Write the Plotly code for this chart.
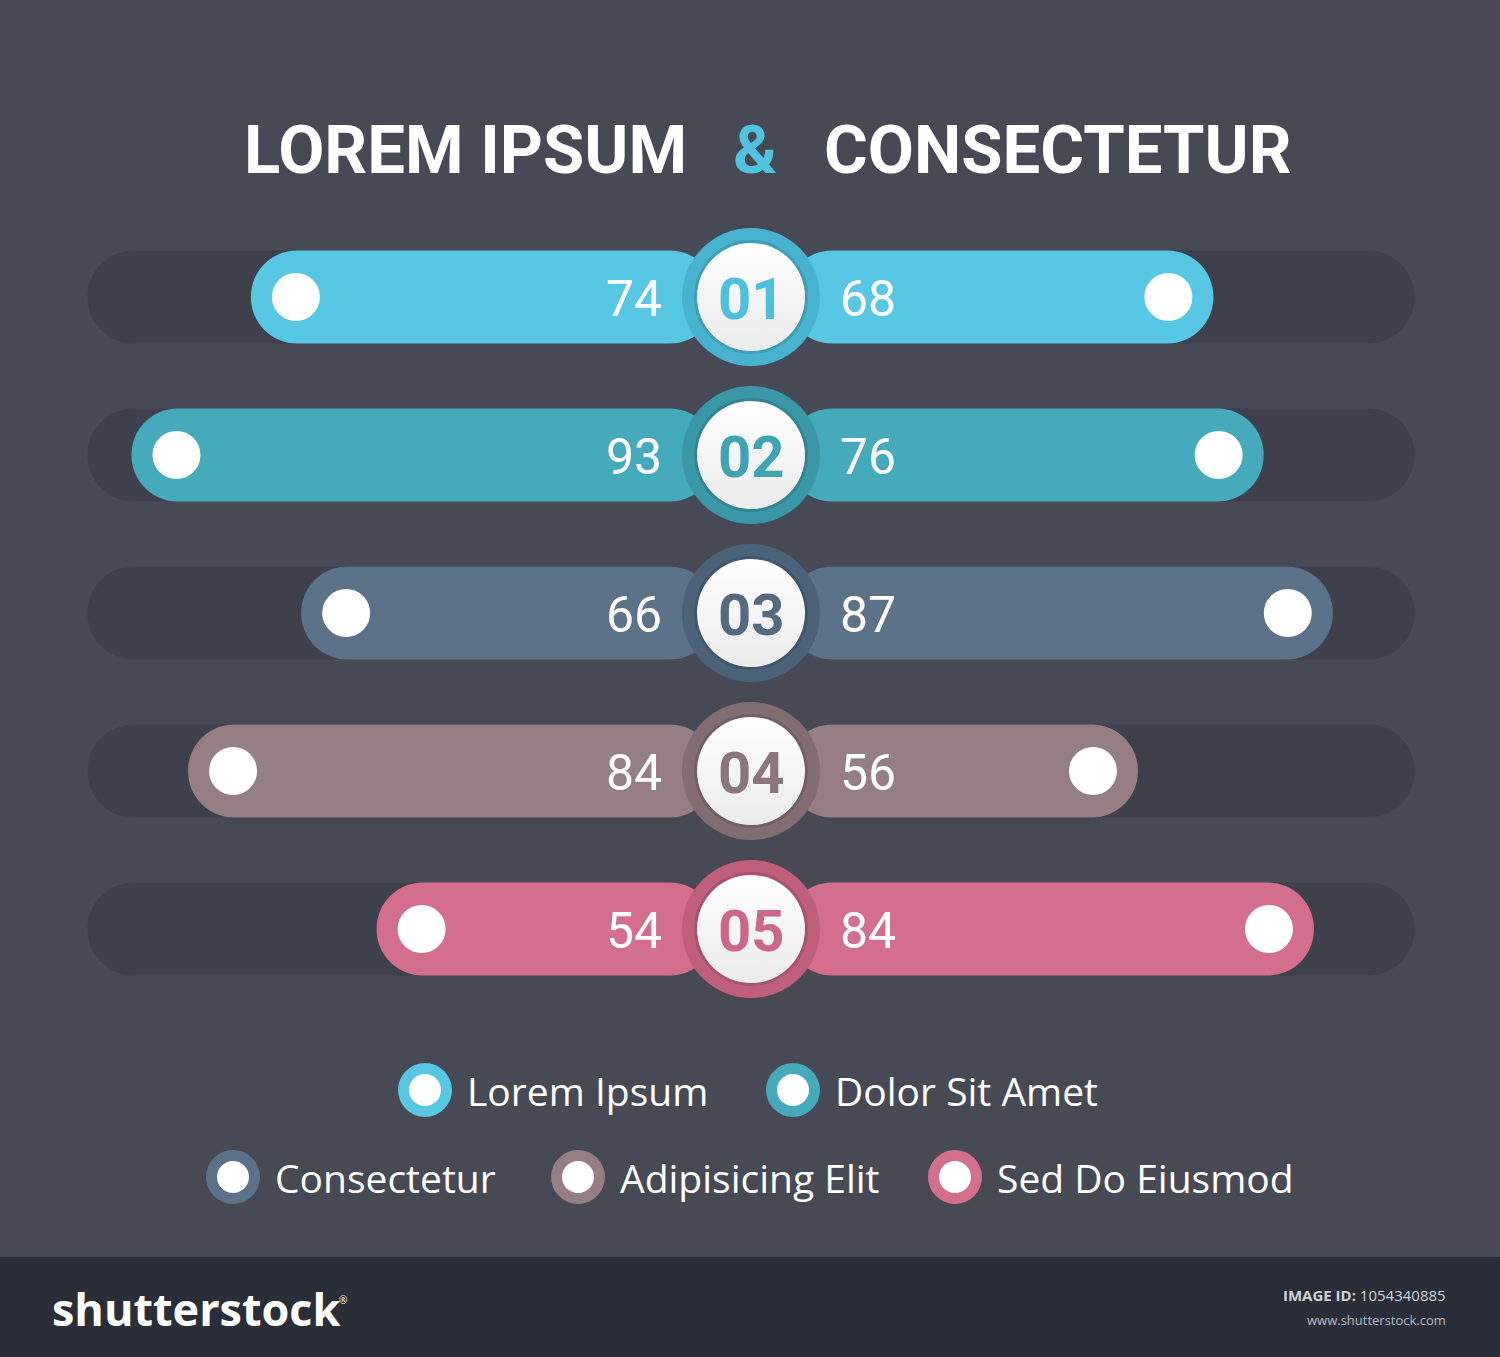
import plotly.graph_objects as go

# ---------------- data ----------------
rows = ["01", "02", "03", "04", "05"]
left_values = [74, 93, 66, 84, 54]
right_values = [68, 76, 87, 56, 84]
track_max = 100
legend_labels = ["Lorem Ipsum", "Dolor Sit Amet", "Consectetur", "Adipisicing Elit", "Sed Do Eiusmod"]
title_left = "LOREM IPSUM"
title_amp = "&"
title_right = "CONSECTETUR"

# ---------------- style ----------------
W, H = 1500, 1357
CX = 751                 # centre pixel
K = 6.285                # px per value unit
BASE = 35 / K            # bars start behind the centre badge
ROW_PX = 158             # px per row
ROW0_PX = 297            # centre of first row
BAR_PX = 93
DOT_IN = 45 / K          # dot inset from bar end (value units)
LBL_OFF = 87 / K

BG = "#474a55"
TRACK_C = "#3e414b"
bar_colors = ["#57c7e3", "#45aabb", "#5b7289", "#957f84", "#d36f8d"]
ring_colors = ["#48b3cf", "#3a97a7", "#4c6278", "#826d72", "#bf5f7c"]
num_colors = ["#4cc0de", "#3ea4b5", "#536a82", "#8b767b", "#cc6787"]
AMP_C = "#4fc3e0"

def px(x):
    return x / W

def py(y):
    return 1 - y / H

bar_w = BAR_PX / ROW_PX

fig = go.Figure()

# tracks
for sign in (-1, 1):
    fig.add_trace(go.Bar(y=rows, x=[sign * track_max] * len(rows), base=sign * BASE, orientation="h",
                         width=bar_w, marker=dict(color=TRACK_C, line=dict(width=0)),
                         hoverinfo="skip", showlegend=False))
fig.add_trace(go.Bar(y=rows, x=[2 * BASE] * len(rows), base=-BASE, orientation="h",
                     width=bar_w, marker=dict(color=TRACK_C, line=dict(width=0), cornerradius=0),
                     hoverinfo="skip", showlegend=False))

# value bars
fig.add_trace(go.Bar(y=rows, x=[-v for v in left_values], base=-BASE, orientation="h",
                     width=bar_w, marker=dict(color=bar_colors, line=dict(width=0)),
                     hoverinfo="skip", showlegend=False))
fig.add_trace(go.Bar(y=rows, x=right_values, base=BASE, orientation="h",
                     width=bar_w, marker=dict(color=bar_colors, line=dict(width=0)),
                     hoverinfo="skip", showlegend=False))
fig.add_trace(go.Bar(y=rows, x=[2 * BASE] * len(rows), base=-BASE, orientation="h",
                     width=bar_w, marker=dict(color=bar_colors, line=dict(width=0), cornerradius=0),
                     hoverinfo="skip", showlegend=False))

# end dots
fig.add_trace(go.Scatter(y=rows, x=[-(BASE + v - DOT_IN) for v in left_values], mode="markers",
                         marker=dict(size=48, color="white", line=dict(width=0)),
                         hoverinfo="skip", showlegend=False))
fig.add_trace(go.Scatter(y=rows, x=[(BASE + v - DOT_IN) for v in right_values], mode="markers",
                         marker=dict(size=48, color="white", line=dict(width=0)),
                         hoverinfo="skip", showlegend=False))

# centre rings
fig.add_trace(go.Scatter(y=rows, x=[0] * len(rows), mode="markers",
                         marker=dict(size=138, color=ring_colors, line=dict(width=0)),
                         hoverinfo="skip", showlegend=False))
fig.add_trace(go.Scatter(y=rows, x=[0] * len(rows), mode="markers",
                         marker=dict(size=114, color="rgba(0,0,0,0.12)", line=dict(width=0)),
                         hoverinfo="skip", showlegend=False))
fig.add_trace(go.Scatter(y=rows, x=[0] * len(rows), mode="markers",
                         marker=dict(size=108, color="white", line=dict(width=0),
                                     gradient=dict(type="vertical", color="#ebebeb")),
                         hoverinfo="skip", showlegend=False))

annotations = []
shapes = []

# badge numbers and value labels (y = category index)
for i, (r, lv, rv, nc) in enumerate(zip(rows, left_values, right_values, num_colors)):
    annotations.append(dict(x=0, y=i, xref="x", yref="y", text=r, showarrow=False,
                            xanchor="center", yanchor="middle", yshift=-2,
                            font=dict(family="Roboto", size=58, color=nc, weight="bold")))
    annotations.append(dict(x=-LBL_OFF, y=i, xref="x", yref="y", text=str(lv), showarrow=False,
                            xanchor="right", yanchor="middle", yshift=-2,
                            font=dict(family="Roboto", size=50, color="white")))
    annotations.append(dict(x=LBL_OFF, y=i, xref="x", yref="y", text=str(rv), showarrow=False,
                            xanchor="left", yanchor="middle", yshift=-2,
                            font=dict(family="Roboto", size=50, color="white")))

# title
title_y = py(150)
annotations.append(dict(x=px(689), y=title_y, xref="paper", yref="paper", text=title_left,
                        xanchor="right", yanchor="middle", showarrow=False,
                        font=dict(family="Roboto", size=67, color="white", weight="bold")))
annotations.append(dict(x=px(755), y=title_y, xref="paper", yref="paper", text=title_amp,
                        xanchor="center", yanchor="middle", showarrow=False,
                        font=dict(family="Roboto", size=67, color=AMP_C, weight="bold")))
annotations.append(dict(x=px(822), y=title_y, xref="paper", yref="paper", text=title_right,
                        xanchor="left", yanchor="middle", showarrow=False,
                        font=dict(family="Roboto", size=67, color="white", weight="bold")))

# custom legend
legend_pos = [(425, 1090), (793, 1090), (233, 1177), (578, 1177), (955, 1177)]
for (cx, cy), lab, col in zip(legend_pos, legend_labels, bar_colors):
    r_out, r_in = 27, 16
    shapes.append(dict(type="circle", xref="paper", yref="paper",
                       x0=px(cx - r_out), x1=px(cx + r_out), y0=py(cy + r_out), y1=py(cy - r_out),
                       fillcolor=col, line=dict(width=0), layer="above"))
    shapes.append(dict(type="circle", xref="paper", yref="paper",
                       x0=px(cx - r_in), x1=px(cx + r_in), y0=py(cy + r_in), y1=py(cy - r_in),
                       fillcolor="white", line=dict(width=0), layer="above"))
    annotations.append(dict(x=px(cx + 40), y=py(cy), xref="paper", yref="paper", text=lab,
                            xanchor="left", yanchor="middle", showarrow=False,
                            font=dict(family="Open Sans", size=39, color="white")))

# footer band
shapes.append(dict(type="rect", xref="paper", yref="paper", x0=0, x1=1, y0=0, y1=py(1257),
                   fillcolor="#292e39", line=dict(width=0), layer="above"))
annotations.append(dict(x=px(50), y=py(1308), xref="paper", yref="paper", text="shutterstock",
                        xanchor="left", yanchor="middle", showarrow=False,
                        font=dict(family="Open Sans", size=45, color="white", weight="bold")))
annotations.append(dict(x=px(343), y=py(1300), xref="paper", yref="paper", text="®",
                        xanchor="center", yanchor="middle", showarrow=False,
                        font=dict(family="Open Sans", size=10, color="white")))
annotations.append(dict(x=px(1448), y=py(1295), xref="paper", yref="paper",
                        text="<b>IMAGE ID:</b> 1054340885",
                        xanchor="right", yanchor="middle", showarrow=False,
                        font=dict(family="Open Sans", size=15, color="#d0d2d6")))
annotations.append(dict(x=px(1448), y=py(1320), xref="paper", yref="paper",
                        text="www.shutterstock.com",
                        xanchor="right", yanchor="middle", showarrow=False,
                        font=dict(family="Open Sans", size=13, color="#b8bbc1")))

y_top = -ROW0_PX / ROW_PX
y_bot = (H - ROW0_PX) / ROW_PX

fig.update_layout(
    width=W, height=H, margin=dict(l=0, r=0, t=0, b=0),
    paper_bgcolor=BG, plot_bgcolor=BG,
    barmode="overlay", barcornerradius="50%",
    xaxis=dict(range=[-CX / K, (W - CX) / K], visible=False, fixedrange=True),
    yaxis=dict(type="category", categoryarray=rows, range=[y_bot, y_top],
               visible=False, fixedrange=True),
    shapes=shapes, annotations=annotations, showlegend=False,
)

fig.write_html("out.html")
